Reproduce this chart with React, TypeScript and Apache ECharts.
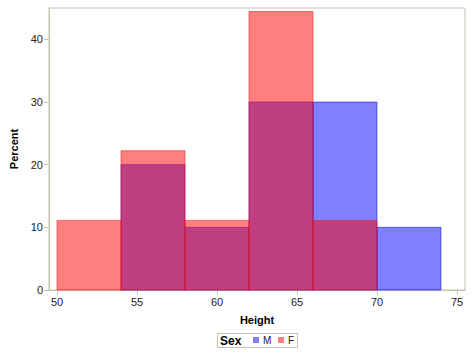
import React, { useEffect, useRef } from "react";
import * as echarts from "echarts";

const binStarts = [50, 54, 58, 62, 66, 70];
const binWidth = 4;
const malePct = [0, 20, 10, 30, 30, 10];
const femalePct = [11.11, 22.22, 11.11, 44.44, 11.11, 0];
const xTicks = [50, 55, 60, 65, 70, 75];
const yTicks = [0, 10, 20, 30, 40];
const legendNames = ["M", "F"];
const legendColors = ["#8080FF", "#FF8080"];
const legendX = [253, 278];

const FRAME = "#C4C4B0";
const FONT = "Liberation Sans, Arial, sans-serif";

function makeSeries(name: string, vals: number[], fill: string, stroke: string) {
  return {
    type: "custom",
    name,
    data: binStarts.map((s, i) => [s, s + binWidth, vals[i]]),
    encode: { x: [0, 1], y: 2 },
    renderItem: (params: any, api: any) => {
      const v = api.value(2);
      if (!v) return null;
      const p0 = api.coord([api.value(0), 0]);
      const p1 = api.coord([api.value(1), v]);
      return {
        type: "rect",
        shape: { x: p0[0], y: p1[1], width: p1[0] - p0[0], height: p0[1] - p1[1] },
        style: { fill, stroke, lineWidth: 1 },
      };
    },
  };
}

export default function App() {
  const ref = useRef<HTMLDivElement>(null);
  useEffect(() => {
    const chart = echarts.init(ref.current!, null, { renderer: "svg" });
    const legendGraphics: any[] = [];
    legendNames.forEach((n, i) => {
      legendGraphics.push({
        type: "rect",
        shape: { x: legendX[i], y: 337, width: 6, height: 6 },
        style: { fill: legendColors[i] },
      });
      legendGraphics.push({
        type: "text",
        x: legendX[i] + 10,
        y: 340.5,
        style: { text: n, fontFamily: FONT, fontSize: 10, fill: "#222", verticalAlign: "middle" },
      });
    });
    chart.setOption({
      animation: false,
      backgroundColor: "#fff",
      grid: { left: 49, right: 9, top: 8, bottom: 65, show: true, borderColor: FRAME, borderWidth: 1 },
      xAxis: {
        type: "value",
        min: 49.5,
        max: 75.5,
        interval: 5,
        name: "Height",
        nameLocation: "middle",
        nameGap: 24,
        nameTextStyle: { fontFamily: FONT, fontWeight: "bold", fontSize: 11, color: "#000" },
        axisLine: { show: true, lineStyle: { color: FRAME } },
        axisTick: { show: true, length: 5, lineStyle: { color: FRAME }, customValues: xTicks },
        axisLabel: { fontFamily: FONT, fontSize: 11, color: "#222", margin: 6, customValues: xTicks },
        splitLine: { show: false },
      },
      yAxis: {
        type: "value",
        min: 0,
        max: 45,
        name: "Percent",
        nameLocation: "middle",
        nameGap: 30,
        nameTextStyle: { fontFamily: FONT, fontWeight: "bold", fontSize: 11, color: "#000" },
        axisLine: { show: true, lineStyle: { color: FRAME } },
        axisTick: { show: true, length: 5, lineStyle: { color: FRAME }, customValues: yTicks },
        axisLabel: { fontFamily: FONT, fontSize: 11, color: "#222", margin: 6, customValues: yTicks },
        splitLine: { show: false },
      },
      graphic: [
        {
          type: "rect",
          shape: { x: 217.5, y: 333.5, width: 80, height: 14 },
          style: { fill: "#fff", stroke: FRAME, lineWidth: 1 },
        },
        {
          type: "text",
          x: 220,
          y: 340.5,
          style: { text: "Sex", fontFamily: FONT, fontWeight: "bold", fontSize: 12, fill: "#000", verticalAlign: "middle" },
        },
        ...legendGraphics,
      ],
      series: [
        makeSeries("M", malePct, "rgba(0,0,255,0.5)", "rgba(0,0,255,0.5)"),
        makeSeries("F", femalePct, "rgba(255,0,0,0.5)", "rgba(235,30,30,0.55)"),
      ],
    });
    return () => chart.dispose();
  }, []);
  return <div ref={ref} style={{ width: 474, height: 355, position: "absolute", left: 0, top: 0 }} />;
}
